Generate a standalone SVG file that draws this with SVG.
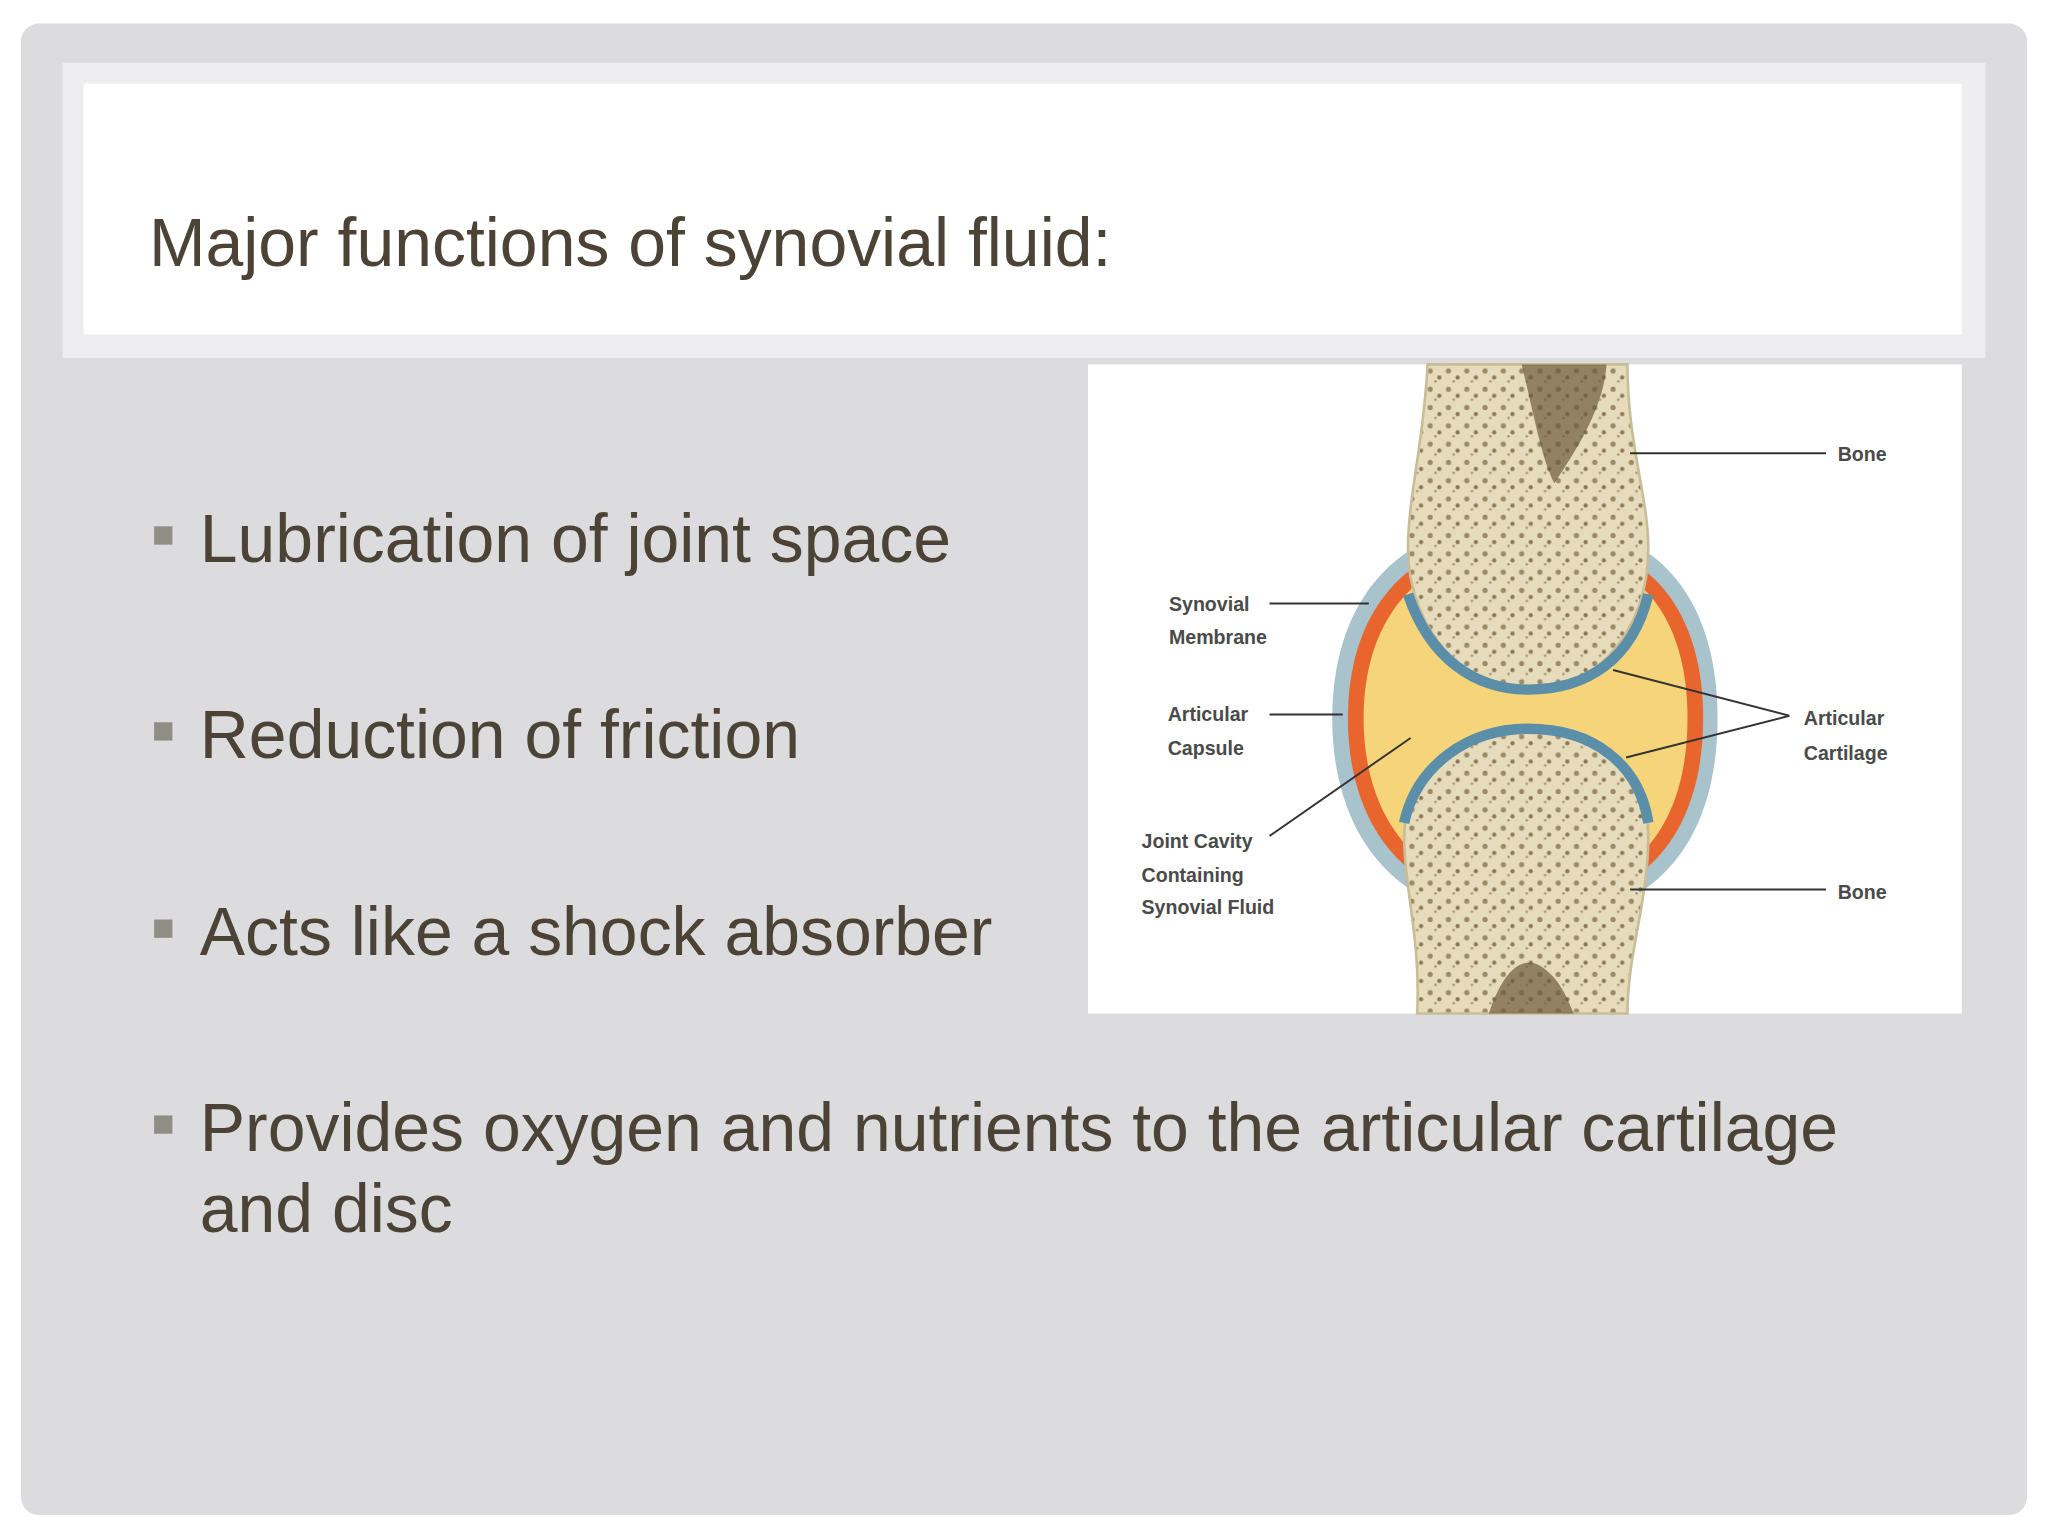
<svg xmlns="http://www.w3.org/2000/svg" width="2048" height="1536" viewBox="0 0 2048 1536">
<style>
.t{font-family:"Liberation Sans",Arial,sans-serif;fill:#4b4436}
.b{font-size:52px}
.bul{fill:#8e8e84}
.lb{font-family:"Liberation Sans",Arial,sans-serif;font-size:15px;fill:#4a4a4a;font-weight:bold}
.ln{stroke:#333;stroke-width:1.5;fill:none}
.bone{fill:url(#spong);stroke:#c9bd98;stroke-width:2}
</style>
<defs>
<pattern id="spong" width="14" height="14" patternUnits="userSpaceOnUse">
<rect width="14" height="14" fill="#e6dcbc"/>
<circle cx="3" cy="4" r="2" fill="#9c8a64"/>
<circle cx="10" cy="9" r="1.6" fill="#8a7855"/>
<circle cx="7" cy="12" r="1" fill="#a8966e"/>
</pattern>
</defs>
<rect width="2048" height="1536" fill="#ffffff"/>
<g transform="scale(1.30612)">
<rect x="16" y="18" width="1536" height="1142" rx="14" fill="#dcdbdd"/>
<rect x="48" y="48" width="1472" height="226" fill="#eeeef0"/>
<rect x="64" y="64" width="1438" height="192" fill="#ffffff"/>
<g id="title"><text class="t" x="114" y="204" font-size="52">Major functions of synovial fluid:</text></g>
<g id="bullets">
<rect class="bul" x="118" y="403" width="14" height="14"/>
<text class="t b" x="153" y="430">Lubrication of joint space</text>
<rect class="bul" x="118" y="553" width="14" height="14"/>
<text class="t b" x="153" y="580">Reduction of friction</text>
<rect class="bul" x="118" y="704" width="14" height="14"/>
<text class="t b" x="153" y="731">Acts like a shock absorber</text>
<rect class="bul" x="118" y="854" width="14" height="14"/>
<text class="t b" x="153" y="881">Provides oxygen and nutrients to the articular cartilage</text>
<text class="t b" x="153" y="943">and disc</text>
</g>
<g id="figure">
<rect x="833" y="279" width="669" height="497" fill="#ffffff"/>
<path d="M1170,398 C1060,398 1020,470 1020,550 C1020,630 1060,705 1170,705 C1280,705 1315,630 1315,550 C1315,470 1280,398 1170,398 Z" fill="#a9c3cc"/>
<path d="M1170,410 C1070,410 1032,475 1032,550 C1032,625 1070,694 1170,694 C1270,694 1304,625 1304,550 C1304,475 1270,410 1170,410 Z" fill="#e8652e"/>
<path d="M1170,420 C1080,420 1044,480 1044,550 C1044,620 1080,684 1170,684 C1262,684 1292,620 1292,550 C1292,480 1262,420 1170,420 Z" fill="#f6d47a"/>
<path class="bone" d="M1093,279 C1090,340 1078,380 1078,420 C1078,480 1120,528 1170,528 C1225,528 1262,480 1262,420 C1262,380 1246,340 1246,279 Z"/>
<path d="M1165,279 C1175,320 1180,350 1190,370 C1210,340 1228,310 1230,279 Z" fill="#6e5a3c" opacity="0.7"/>
<path d="M1078,455 C1095,505 1130,528 1170,528 C1215,528 1250,505 1262,455" fill="none" stroke="#5b8ea8" stroke-width="8"/>
<path class="bone" d="M1085,776 C1088,720 1075,680 1075,640 C1075,590 1120,558 1170,558 C1225,558 1262,590 1262,640 C1262,690 1246,730 1246,776 Z"/>
<path d="M1140,776 C1150,745 1165,730 1180,740 C1195,750 1200,765 1205,776 Z" fill="#6e5a3c" opacity="0.7"/>
<path d="M1075,630 C1085,585 1125,558 1170,558 C1220,558 1255,585 1262,630" fill="none" stroke="#5b8ea8" stroke-width="8"/>
<path class="ln" d="M1248,347 H1398 M972,462 H1048 M972,547 H1028 M972,640 L1080,565 M1235,513 L1370,548 M1245,580 L1370,548 M1248,681 H1398"/>
<text class="lb" x="1407" y="353">Bone</text>
<text class="lb" x="895" y="468">Synovial</text><text class="lb" x="895" y="493">Membrane</text>
<text class="lb" x="894" y="552">Articular</text><text class="lb" x="894" y="578">Capsule</text>
<text class="lb" x="874" y="649">Joint Cavity</text><text class="lb" x="874" y="675">Containing</text><text class="lb" x="874" y="700">Synovial Fluid</text>
<text class="lb" x="1381" y="555">Articular</text><text class="lb" x="1381" y="582">Cartilage</text>
<text class="lb" x="1407" y="688">Bone</text>
</g>
</g>
</svg>
